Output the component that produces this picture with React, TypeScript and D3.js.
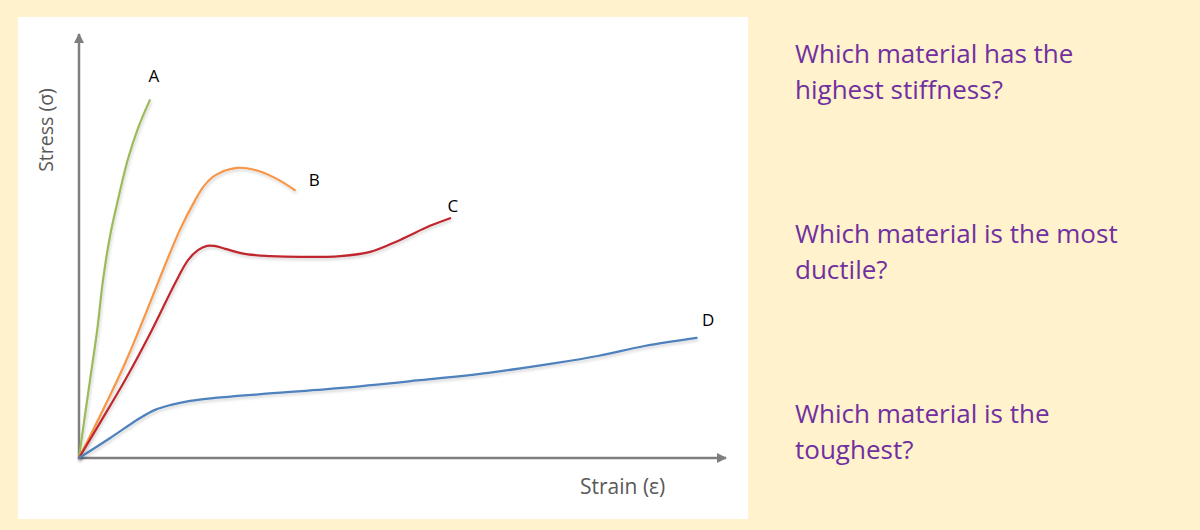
import { useMemo } from "react";
import * as d3 from "d3";

const WIDTH = 1200;
const HEIGHT = 530;

// strain / stress values (arbitrary units, 0-100)
const curveA = [
  [0, 0], [0.6, 6.6], [1.7, 18.3], [2.8, 30], [3.7, 41.8], [4.8, 52.3],
  [6, 60.6], [7.5, 70], [9.1, 77.5], [10.9, 84],
];
const curveB = [
  [0, 0], [7.1, 22.3], [15.5, 53.5], [17.9, 60.6], [19.3, 64],
  [21, 66.4], [24.3, 68.1], [27.1, 67.6], [30.2, 65.7], [33.2, 62.9],
];
const curveC = [
  [0, 0], [3.2, 8.2], [7.1, 18.3], [11.2, 30], [14.8, 41.1], [16.8, 46.5],
  [18.3, 48.8], [19.7, 49.8], [20.8, 49.8], [22.5, 49.1],
  [25.5, 47.9], [29.4, 47.4], [34, 47.2], [40.2, 47.4], [44.8, 48.4],
  [49.4, 51.2], [54, 54.5], [57.1, 56.3],
];
const curveD = [
  [0, 0], [4.8, 4.7], [9.4, 9.4], [11.7, 11.3], [14, 12.4], [17.1, 13.4],
  [20.9, 14.1], [28, 15], [40, 16.4], [52, 18.2], [63, 20], [73, 22.2],
  [80, 24], [87, 26.3], [95, 28.2],
];
const curveNames = ["A", "B", "C", "D"];
const curveColors = ["#9BBB59", "#F79646", "#C0282D", "#4F81BD"];
const labelPos = [
  [11.5, 88.3], [36.2, 63.9], [57.5, 57.8], [96.8, 31],
];
const questions = [
  ["Which material has the", "highest stiffness?"],
  ["Which material is the most", "ductile?"],
  ["Which material is the", "toughest?"],
];

const ORIGIN = { x: 79, y: 458 };

export default function App() {
  const xScale = useMemo(
    () => d3.scaleLinear().domain([0, 100]).range([ORIGIN.x, 729]),
    []
  );
  const yScale = useMemo(
    () => d3.scaleLinear().domain([0, 100]).range([ORIGIN.y, 32]),
    []
  );

  const line = d3
    .line<number[]>()
    .x((d) => xScale(d[0]))
    .y((d) => yScale(d[1]))
    .curve(d3.curveCatmullRom.alpha(0.5));

  const curves = [curveA, curveB, curveC, curveD];

  return (
    <svg
      width={WIDTH}
      height={HEIGHT}
      style={{ position: "absolute", left: 0, top: 0 }}
      fontFamily="'Open Sans', 'Noto Sans', sans-serif"
    >
      <defs>
        <filter id="shadow" x="-10%" y="-10%" width="120%" height="130%">
          <feDropShadow dx="1" dy="2" stdDeviation="1.5" floodColor="#000" floodOpacity="0.18" />
        </filter>
        <marker id="arrow" viewBox="0 0 10 10" refX="9" refY="5" markerWidth="5" markerHeight="4" orient="auto" markerUnits="strokeWidth">
          <path d="M0,0 L10,5 L0,10 z" fill="#7F7F7F" />
        </marker>
      </defs>
      <rect width={WIDTH} height={HEIGHT} fill="#FFF2CC" />
      <rect x={18} y={17} width={730} height={502} fill="#ffffff" />

      {/* axes */}
      <line x1={ORIGIN.x} y1={ORIGIN.y + 1} x2={ORIGIN.x} y2={34} stroke="#7F7F7F" strokeWidth={2.5} markerEnd="url(#arrow)" />
      <line x1={ORIGIN.x - 1} y1={ORIGIN.y} x2={726} y2={ORIGIN.y} stroke="#7F7F7F" strokeWidth={2.5} markerEnd="url(#arrow)" />

      <text
        transform={`translate(53,130) rotate(-90)`}
        textAnchor="middle"
        fontSize={19.5}
        fill="#595959"
      >
        Stress (σ)
      </text>
      <text x={580} y={494} fontSize={21} fill="#595959">
        Strain (ε)
      </text>

      {curves.map((c, i) => (
        <path
          key={curveNames[i]}
          d={line(c) ?? ""}
          fill="none"
          stroke={curveColors[i]}
          strokeWidth={2.2}
          strokeLinecap="round"
          filter="url(#shadow)"
        />
      ))}
      {labelPos.map((p, i) => (
        <text
          key={curveNames[i]}
          x={xScale(p[0])}
          y={yScale(p[1])}
          textAnchor="middle"
          fontSize={17}
          fill="#000"
        >
          {curveNames[i]}
        </text>
      ))}

      {questions.map((q, i) => (
        <text key={i} x={795} y={63 + i * 180} fontSize={26} fill="#7030A0">
          {q.map((l, j) => (
            <tspan key={j} x={795} dy={j === 0 ? 0 : 36}>
              {l}
            </tspan>
          ))}
        </text>
      ))}
    </svg>
  );
}
